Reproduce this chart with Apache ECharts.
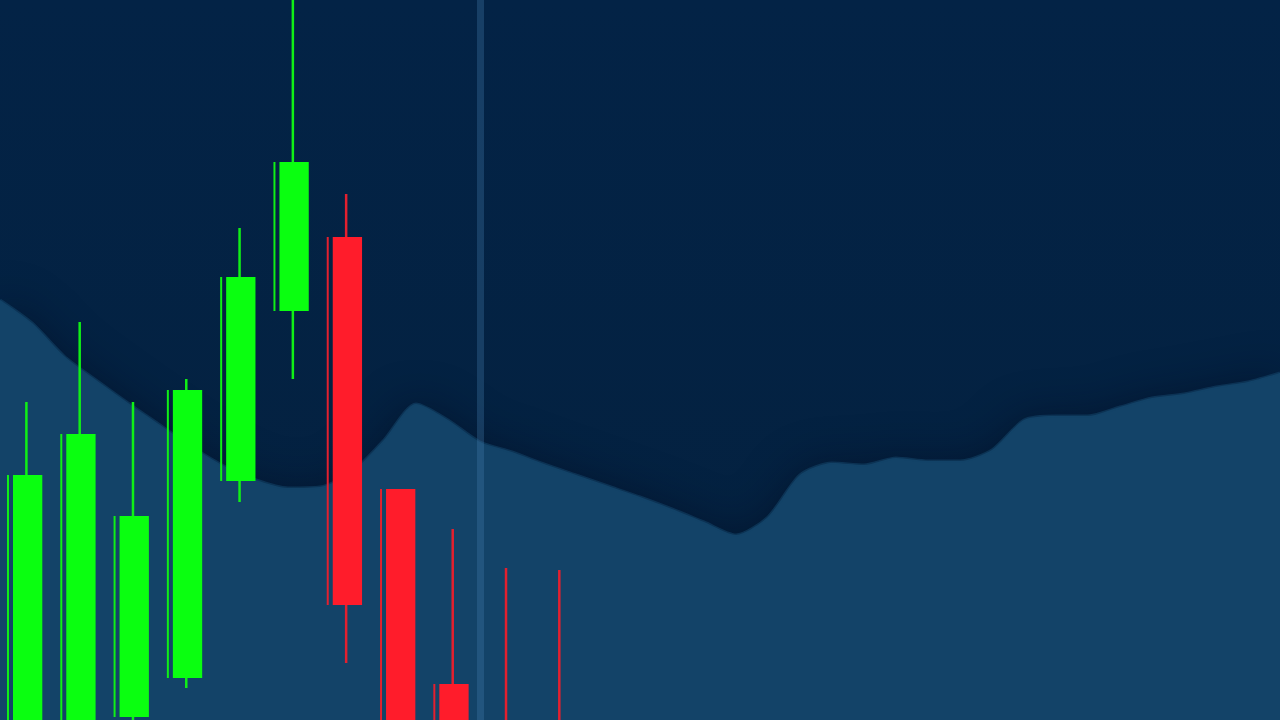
<!DOCTYPE html>
<html>
<head>
<meta charset="utf-8">
<script src="https://cdn.jsdelivr.net/npm/echarts@6/dist/echarts.min.js"></script>
<style>html,body{margin:0;padding:0;background:#032346;}#c{width:1280px;height:720px;}</style>
</head>
<body>
<div id="c"></div>
<script>
// Candle categories (24 slots, 11 filled)
const categories = ['1','2','3','4','5','6','7','8','9','10','11','12','13','14','15','16','17','18','19','20','21','22','23','24'];
const openValues  = [94.0, 95.0, 100.3, 104.2, 123.9, 140.9, 148.3, 123.1, 103.6, 98.5, 98.5];
const closeValues = [124.5, 128.6, 120.4, 133.0, 144.3, 155.8, 111.5, 94.0, 95.0, 94.0, 94.0];
const lowValues   = [92.0, 93.0, 99.2, 103.2, 121.8, 134.1, 105.7, 92.0, 93.0, 92.0, 92.0];
const highValues  = [131.8, 139.8, 131.8, 134.1, 149.2, 176.0, 152.6, 123.1, 119.1, 115.2, 115.0];

// Background area series (41 evenly spaced samples)
const areaCategories = Array.from({length: 41}, (_, i) => 'p' + i);
const areaValues = [142.0, 139.7, 136.4, 134.0, 131.7, 129.5, 127.3, 125.4, 124.0, 123.2,
  123.3, 124.8, 128.0, 131.6, 130.0, 127.8, 126.8, 125.6, 124.5, 123.4,
  122.3, 121.1, 119.8, 118.5, 120.3, 124.5, 125.7, 125.5, 126.2, 125.9,
  125.9, 127.0, 130.0, 130.4, 130.4, 131.3, 132.2, 132.6, 133.3, 133.8, 134.7];
const cursorIndex = 15;

const candleData = openValues.map((o, i) => [i, o, closeValues[i], lowValues[i], highValues[i]]);

const chart = echarts.init(document.getElementById('c'));
chart.setOption({
  backgroundColor: {
    type: 'linear', x: 0, y: 0, x2: 0, y2: 1,
    colorStops: [{offset: 0, color: '#032346'}, {offset: 1, color: '#04213f'}]
  },
  animation: false,
  grid: [
    {left: 0, right: 0, top: 0, bottom: 0},
    {left: 1, right: -1, top: 0, bottom: 0}
  ],
  xAxis: [
    {type: 'category', gridIndex: 1, data: categories, boundaryGap: true, show: false},
    {type: 'category', gridIndex: 0, data: areaCategories, boundaryGap: false, show: false}
  ],
  yAxis: [
    {type: 'value', gridIndex: 1, min: 100, max: 172, show: false, splitLine: {show: false}},
    {type: 'value', gridIndex: 0, min: 100, max: 172, show: false, splitLine: {show: false}}
  ],
  series: [
    {
      type: 'line',
      xAxisIndex: 1,
      yAxisIndex: 1,
      data: areaValues,
      smooth: 0.25,
      symbol: 'none',
      lineStyle: {width: 3, color: 'rgba(19,67,104,0.6)'},
      areaStyle: {
        color: '#134368',
        opacity: 1,
        shadowColor: 'rgba(0,12,32,0.5)',
        shadowBlur: 40
      },
      markLine: {
        silent: true,
        symbol: 'none',
        label: {show: false},
        lineStyle: {color: 'rgba(70,130,180,0.3)', width: 7, type: 'solid'},
        data: [{xAxis: cursorIndex}]
      },
      z: 1
    },
    {
      type: 'custom',
      xAxisIndex: 0,
      yAxisIndex: 0,
      data: candleData,
      clip: true,
      z: 5,
      renderItem: function (params, api) {
        const idx = api.value(0);
        const o = api.value(1), c = api.value(2), lo = api.value(3), hi = api.value(4);
        const up = c >= o;
        const pO = api.coord([idx, o]);
        const pC = api.coord([idx, c]);
        const pL = api.coord([idx, lo]);
        const pH = api.coord([idx, hi]);
        const x = pO[0];
        const bw = api.size([1, 0])[0] * 0.55;
        const top = Math.min(pO[1], pC[1]);
        const bot = Math.max(pO[1], pC[1]);
        const body = up ? '#0aff10' : '#ff1c2b';
        const wick = up ? '#10f016' : '#e3202f';
        return {
          type: 'group',
          children: [
            {type: 'rect', shape: {x: x - 2.5, y: pH[1], width: 2.5, height: pL[1] - pH[1]}, style: {fill: wick}},
            {type: 'rect', shape: {x: x - bw / 2 - 6, y: top, width: 2, height: bot - top}, style: {fill: wick}},
            {type: 'rect', shape: {x: x - bw / 2, y: top, width: bw, height: bot - top}, style: {fill: body}}
          ]
        };
      }
    }
  ]
});
</script>
</body>
</html>
